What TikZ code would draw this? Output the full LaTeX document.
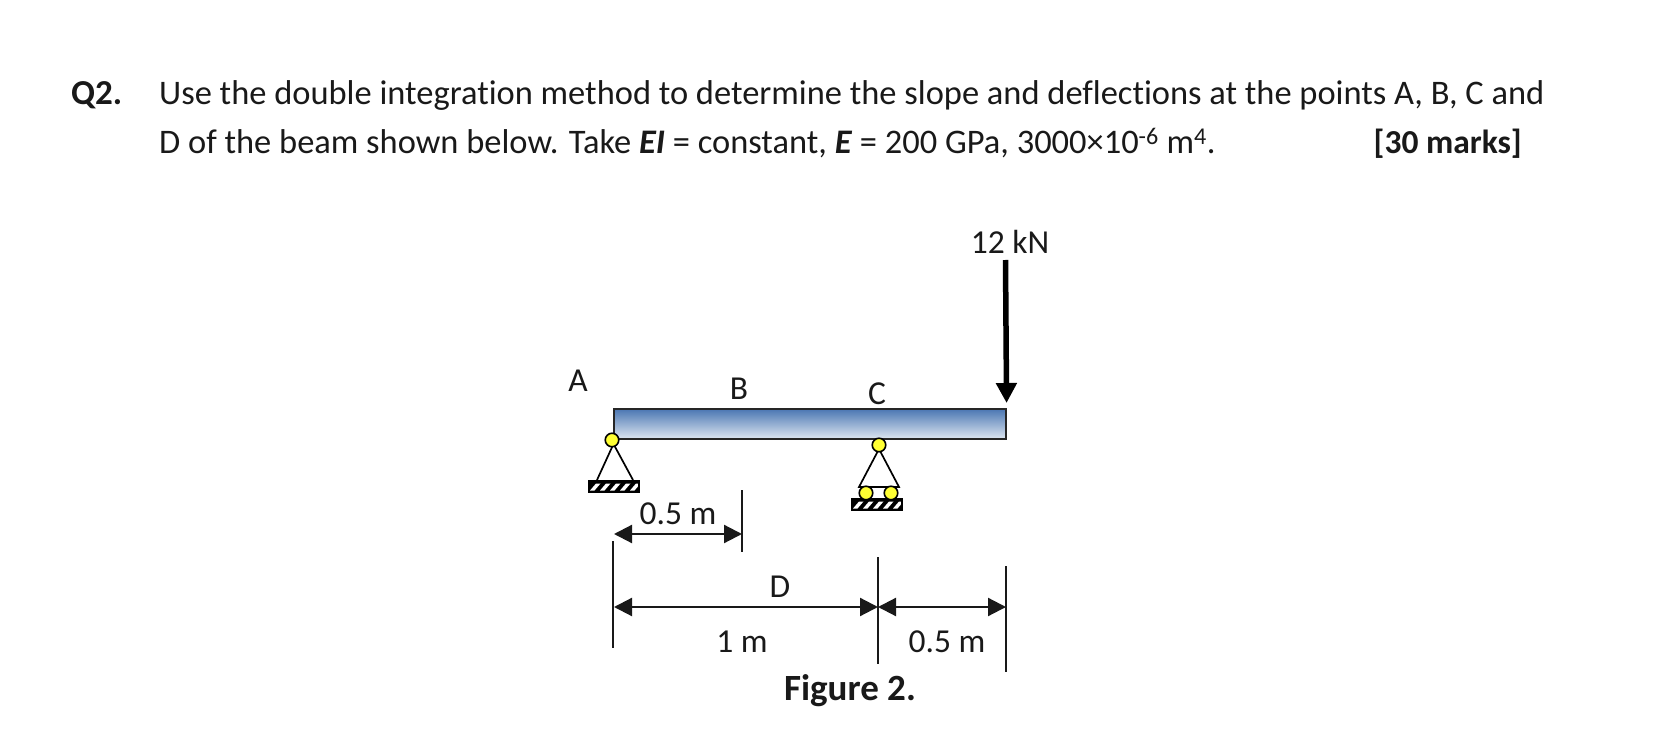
\documentclass[tikz,border=0pt]{standalone}
\usepackage{fontspec}
\setmainfont[Ligatures=NoCommon]{Carlito}
\usetikzlibrary{arrows.meta,calc}
\newcommand{\hatchblock}[2]{%
  \begin{scope}
    \clip (#1,#2) rectangle ++(50,11);
    \fill[black] (#1,#2) rectangle ++(50,11);
    \foreach \k in {0,1,2,3,4,5}{
      \fill[white] ($(#1,#2)+(\k*10+1,9.5)$) -- ++(4.5,0) -- ++(6,-7) -- ++(-4.5,0) -- cycle;
    }
  \end{scope}
  \draw[line width=1.2pt] (#1,#2) rectangle ++(50,11);
}
\tikzset{
  x=1pt,y=-1pt,
  txt/.style={inner sep=0pt,font=\fontsize{34.45}{40}\selectfont,text=black!90},
  bodytxt/.style={txt,anchor=base west},
  lbl/.style={inner sep=0pt,font=\fontsize{33.5}{38}\selectfont,text=black!90},
  beam/.style={draw=black!85,line width=1.6pt,top color=beamtop,bottom color=beambot},
  pin/.style={circle,draw=black,line width=1.6pt,fill=pinyellow,minimum size=13.5pt,inner sep=0pt},
  strut/.style={draw=black,line width=1.7pt,line join=miter},
  dim/.style={draw=black!90,line width=2.2pt,{Triangle[length=18pt,width=18pt]}-{Triangle[length=18pt,width=18pt]}},
  tick/.style={draw=black!90,line width=1.5pt},
  load/.style={draw=black,line width=5.5pt,-{Triangle[length=20pt,width=20pt]}}
}
\definecolor{beamtop}{HTML}{4A76B2}
\definecolor{beambot}{HTML}{DDE6F1}
\definecolor{pinyellow}{HTML}{FFFF33}
\begin{document}
\begin{tikzpicture}
\useasboundingbox[fill=white] (0,0) rectangle (1658,754);
% question text
\node[bodytxt,font=\fontsize{35}{40}\bfseries\selectfont] (q) at (71,105) {Q2.};
\node[bodytxt] (l1) at (159,105) {Use the double integration method to determine the slope and deflections at the points A, B, C and};
\node[bodytxt] (l2) at (159,154) {D of the beam shown below. Take \textbf{\textit{EI}} = constant, \textbf{\textit{E}} = 200 GPa, 3000×10\textsuperscript{-6} m\textsuperscript{4}.};
\node[txt,anchor=base east,font=\fontsize{33.5}{40}\bfseries\selectfont] (marks) at (1522,154) {[30 marks]};
% beam
\node[beam,minimum width=392pt,minimum height=30pt,inner sep=0pt,anchor=north west] (bm) at (613,408) {};
% supports
\coordinate (a1) at (597,480); \coordinate (a2) at (633,480); \coordinate (a0) at (613.5,444);
\draw[strut] (a1) -- (a0) -- (a2);
\hatchblock{589}{481}
\node[pin] (pa) at (612,440) {};
\coordinate (c1) at (859,487); \coordinate (c2) at (899,487); \coordinate (c0) at (879,449);
\draw[strut] (c0) -- (c1) -- (c2) -- cycle;
\hatchblock{852}{499}
\node[pin] (pc) at (879,445) {};
\node[pin] (r1) at (866,493) {};
\node[pin] (r2) at (891,493) {};
% load
\coordinate (ltop) at (1005.5,260);
\draw[load,shorten >=5pt] (ltop) -- (bm.north east);
% ticks
\coordinate (t1a) at (613,541); \coordinate (t1b) at (613,648);
\coordinate (t2a) at (742,490); \coordinate (t2b) at (742,552);
\coordinate (t3a) at (878,557); \coordinate (t3b) at (878,664);
\coordinate (t4a) at (1006,566); \coordinate (t4b) at (1006,672);
\draw[tick] (t1a) -- (t1b);
\draw[tick] (t2a) -- (t2b);
\draw[tick] (t3a) -- (t3b);
\draw[tick] (t4a) -- (t4b);
% dimensions
\coordinate (d1a) at (614,534); \coordinate (d1b) at (742,534);
\coordinate (d2a) at (614,607); \coordinate (d2b) at (878,607);
\coordinate (d3a) at (878,607); \coordinate (d3b) at (1006,607);
\draw[dim] (d1a) -- (d1b);
\draw[dim] (d2a) -- (d2b);
\draw[dim] (d3a) -- (d3b);
% labels
\node[lbl] (kn) at (1010,242) {12 kN};
\node[lbl] (A) at (578,381) {A};
\node[lbl] (B) at (739,389) {B};
\node[lbl] (C) at (877,394) {C};
\node[lbl] (d05) at (678,514) {0.5 m};
\node[lbl] (D) at (780,587) {D};
\node[lbl] (d1m) at (742,642) {1 m};
\node[lbl] (d05b) at (947,642) {0.5 m};
\node[txt,font=\fontsize{37}{42}\bfseries\selectfont] (fig) at (850,691) {Figure 2.};
\end{tikzpicture}
\end{document}
